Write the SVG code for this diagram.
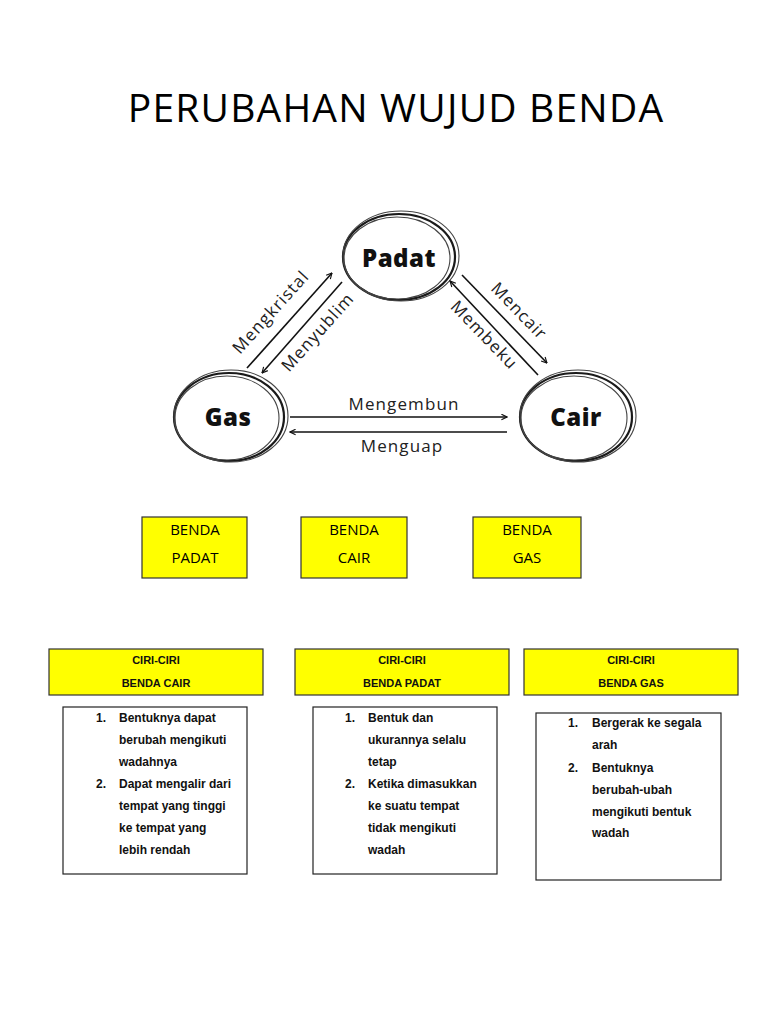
<svg xmlns="http://www.w3.org/2000/svg" width="768" height="1024" viewBox="0 0 768 1024">
<defs>
<marker id="ah" viewBox="0 0 10 10" refX="9" refY="5" markerWidth="7" markerHeight="7" orient="auto" markerUnits="userSpaceOnUse">
<path d="M1,1 L9,5 L1,9" fill="none" stroke="#111" stroke-width="1.6"/>
</marker>
</defs>
<style>
.title{font-family:"Open Sans","Liberation Sans",sans-serif;font-size:39px;letter-spacing:1.2px;fill:#000;text-anchor:middle}
.ring{fill:#fff;stroke:#1a1a1a;stroke-width:2.2}
.ring2{fill:none;stroke:#444;stroke-width:1.1}
.node{font-family:"Open Sans","Liberation Sans",sans-serif;font-weight:800;font-size:24px;letter-spacing:0.5px;fill:#111;text-anchor:middle}
.conn{stroke:#111;stroke-width:1.6;fill:none;marker-end:url(#ah)}
.lbl{font-family:"Open Sans","Liberation Sans",sans-serif;font-size:17px;letter-spacing:1.1px;fill:#222;text-anchor:middle}
.yb{fill:#ffff00;stroke:#333;stroke-width:1.2}
.wb{fill:#fff;stroke:#222;stroke-width:1.2}
.bt{font-family:"Open Sans","Liberation Sans",sans-serif;font-size:15px;fill:#000;text-anchor:middle}
.ht{font-family:"Liberation Sans",sans-serif;font-weight:bold;font-size:11px;fill:#111;text-anchor:middle}
.li{font-family:"Liberation Sans",sans-serif;font-weight:bold;font-size:12px;fill:#111}
</style>
<text class="title" x="396" y="122">PERUBAHAN WUJUD BENDA</text>

<g id="padat">
<ellipse class="ring" cx="399" cy="257" rx="56" ry="43"/>
<ellipse class="ring2" cx="397" cy="258" rx="53" ry="41"/>
<ellipse class="ring2" cx="401" cy="256" rx="58" ry="45"/>
<text class="node" x="399" y="267">Padat</text>
</g>
<g id="gas">
<ellipse class="ring" cx="229" cy="417" rx="55" ry="44"/>
<ellipse class="ring2" cx="227" cy="418" rx="52" ry="42"/>
<ellipse class="ring2" cx="231" cy="416" rx="57" ry="46"/>
<text class="node" x="228" y="426">Gas</text>
</g>
<g id="cair">
<ellipse class="ring" cx="576" cy="417" rx="56" ry="44"/>
<ellipse class="ring2" cx="574" cy="418" rx="53" ry="42"/>
<ellipse class="ring2" cx="578" cy="416" rx="58" ry="46"/>
<text class="node" x="576" y="426">Cair</text>
</g>

<g id="connectors">
<line class="conn" x1="247" y1="368" x2="332" y2="273"/>
<line class="conn" x1="342" y1="282" x2="262" y2="373"/>
<line class="conn" x1="462" y1="275" x2="547" y2="363"/>
<line class="conn" x1="538" y1="375" x2="450" y2="281"/>
<line class="conn" x1="290" y1="417" x2="507" y2="417"/>
<line class="conn" x1="507" y1="432" x2="290" y2="432"/>
<text class="lbl" transform="translate(275,316) rotate(-48)">Mengkristal</text>
<text class="lbl" transform="translate(322,336) rotate(-48)">Menyublim</text>
<text class="lbl" transform="translate(515,315) rotate(46)">Mencair</text>
<text class="lbl" transform="translate(480,339) rotate(46)">Membeku</text>
<text class="lbl" x="404" y="410">Mengembun</text>
<text class="lbl" x="402" y="452">Menguap</text>
</g>

<g id="benda-padat">
<rect class="yb" x="142" y="517" width="105" height="61"/>
<text class="bt" x="195" y="535">BENDA</text>
<text class="bt" x="195" y="563">PADAT</text>
</g>
<g id="benda-cair">
<rect class="yb" x="301" y="517" width="106" height="61"/>
<text class="bt" x="354" y="535">BENDA</text>
<text class="bt" x="354" y="563">CAIR</text>
</g>
<g id="benda-gas">
<rect class="yb" x="473" y="517" width="108" height="61"/>
<text class="bt" x="527" y="535">BENDA</text>
<text class="bt" x="527" y="563">GAS</text>
</g>

<g id="ciri-cair">
<rect class="yb" x="49" y="649" width="214" height="46"/>
<text class="ht" x="156" y="664">CIRI-CIRI</text>
<text class="ht" x="156" y="687">BENDA CAIR</text>
<rect class="wb" x="63" y="707" width="184" height="167"/>
<text class="li" x="96" y="722">1.</text>
<text class="li" x="119" y="722">Bentuknya dapat</text>
<text class="li" x="119" y="744">berubah mengikuti</text>
<text class="li" x="119" y="766">wadahnya</text>
<text class="li" x="96" y="788">2.</text>
<text class="li" x="119" y="788">Dapat mengalir dari</text>
<text class="li" x="119" y="810">tempat yang tinggi</text>
<text class="li" x="119" y="832">ke tempat yang</text>
<text class="li" x="119" y="854">lebih rendah</text>
</g>
<g id="ciri-padat">
<rect class="yb" x="295" y="649" width="214" height="46"/>
<text class="ht" x="402" y="664">CIRI-CIRI</text>
<text class="ht" x="402" y="687">BENDA PADAT</text>
<rect class="wb" x="313" y="707" width="184" height="167"/>
<text class="li" x="345" y="722">1.</text>
<text class="li" x="368" y="722">Bentuk dan</text>
<text class="li" x="368" y="744">ukurannya selalu</text>
<text class="li" x="368" y="766">tetap</text>
<text class="li" x="345" y="788">2.</text>
<text class="li" x="368" y="788">Ketika dimasukkan</text>
<text class="li" x="368" y="810">ke suatu tempat</text>
<text class="li" x="368" y="832">tidak mengikuti</text>
<text class="li" x="368" y="854">wadah</text>
</g>
<g id="ciri-gas">
<rect class="yb" x="524" y="649" width="214" height="46"/>
<text class="ht" x="631" y="664">CIRI-CIRI</text>
<text class="ht" x="631" y="687">BENDA GAS</text>
<rect class="wb" x="536" y="713" width="185" height="167"/>
<text class="li" x="568" y="727">1.</text>
<text class="li" x="592" y="727">Bergerak ke segala</text>
<text class="li" x="592" y="749">arah</text>
<text class="li" x="568" y="772">2.</text>
<text class="li" x="592" y="772">Bentuknya</text>
<text class="li" x="592" y="794">berubah-ubah</text>
<text class="li" x="592" y="816">mengikuti bentuk</text>
<text class="li" x="592" y="837">wadah</text>
</g>
</svg>
